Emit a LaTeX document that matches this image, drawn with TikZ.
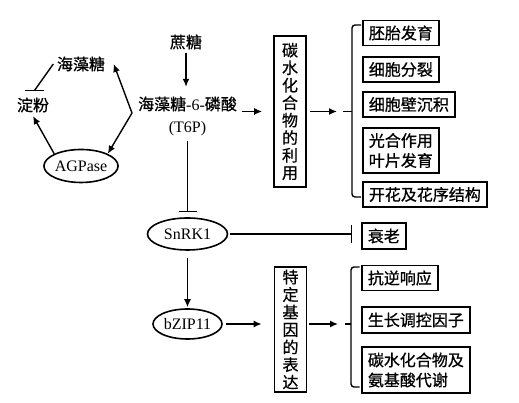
\documentclass[tikz,border=0pt]{standalone}
\usepackage{fontspec}
\setmainfont{Liberation Serif}
\newfontfamily\cjk[FakeBold=0.8]{Noto Sans CJK SC}
\usepackage{tikz}
\usetikzlibrary{shapes,arrows.meta}
\newcommand\zh{\cjk\fontsize{16pt}{20pt}\selectfont}
\newcommand\zhv{\cjk\fontsize{16pt}{17.5pt}\selectfont}
\tikzset{
	result/.style = {draw, line width=1.7pt, rectangle, anchor=west, align=left,
		minimum height=25pt, inner xsep=6pt, inner ysep=3pt, font=\zh},
	usage/.style  = {draw, line width=1.7pt, rectangle, align=center,
		minimum width=32pt, inner sep=2pt, font=\zhv},
	enzyme/.style = {draw, line width=1.6pt, ellipse, inner sep=0pt,
		font=\fontsize{16pt}{19pt}\selectfont},
	sugar/.style  = {inner sep=3pt, font=\zh},
	inhib/.style  = {-{Bar[width=18pt]}},
	brace/.style  = {rounded corners=3pt}
}

\begin{document}
\begin{tikzpicture}[line width=1.4pt, x=10pt, y=10pt, >={Latex[length=8pt,width=7pt]}]
	\useasboundingbox (0,0) rectangle (51.9,40.3);
	\draw
	
	node at (18.6,36.1) [sugar] (suc) {蔗糖}
	node at (18.75,28.7) [align=center, inner sep=2pt, font=\fontsize{16pt}{22pt}\selectfont] (t6p) {{\cjk 海藻糖}-6-{\cjk 磷酸}\\(T6P)}
	node at (8.1,33.9) [sugar] (tre) {海藻糖}
	node at (3.3,29.8) [sugar] (starch) {淀粉}
	node at (8.1,23.7) [enzyme, minimum width=64pt, minimum height=33pt] (agp) {AGPase}
	node at (18.75,16.9) [enzyme, minimum width=80pt, minimum height=32pt] (snrk) {SnRK1}
	node at (18.75,7.9) [enzyme, minimum width=69pt, minimum height=30pt] (bzip) {bZIP11}
	node at (29.0,29.15) [usage, minimum height=151pt] (carbon) {碳\\水\\化\\合\\物\\的\\利\\用}
	node at (29.05,7.35) [usage, minimum height=125pt] (gene) {特\\定\\基\\因\\的\\表\\达}
	node at (36.2,37.0) [result] (emb) {胚胎发育}
	node at (36.2,33.35) [result] (div) {细胞分裂}
	node at (36.2,29.85) [result] (wall) {细胞壁沉积}
	node at (36.2,25.25) [result, minimum height=45pt] (photo) {光合作用\\叶片发育}
	node at (36.2,20.85) [result] (flower) {开花及花序结构}
	node at (36.1,16.7) [result, minimum height=26pt] (sen) {衰老}
	node at (36.1,12.5) [result] (stress) {抗逆响应}
	node at (36.1,8.3) [result, minimum height=26pt] (growth) {生长调控因子}
	node at (36.1,3.3) [result, minimum height=46pt] (meta) {碳水化合物及\\氨基酸代谢};
	
	\coordinate (fork) at (13.2,29.0);
	\coordinate (stbar) at (3.45,31.25);
	\coordinate (br1) at (35.2,29.15);
	\coordinate (br1top) at (36.1,37.8);
	\coordinate (br1bot) at (36.1,20.6);
	\coordinate (br2) at (35.1,7.9);
	\coordinate (br2top) at (35.95,13.6);
	\coordinate (br2bot) at (35.95,1.6);
	
	% T6P and its targets
	\draw[->, shorten >=7pt](suc.south)--(suc.south |- t6p.north);
	\draw[->, shorten <=2pt, shorten >=11pt](t6p.east |- carbon.west)--(carbon.west);
	\draw[->](fork)--([xshift=5pt]tre.east);
	\draw[->](fork)--(agp.north east);
	\draw[->](agp.north west)--(starch.south);
	\draw(tre.west)--(stbar);
	\draw([xshift=-9.5pt]stbar)--([xshift=9.5pt]stbar);
	\draw[inhib, shorten <=3pt, shorten >=5pt](t6p)--(snrk);
	\draw[inhib, shorten <=2pt, shorten >=9pt](snrk)--(snrk -| sen.west);
	\draw[->, shorten <=7pt, shorten >=1pt](snrk)--(bzip);
	\draw[->, shorten <=3pt, shorten >=12pt](bzip)--(bzip -| gene.west);
	
	% brackets
	\draw[->, shorten <=3pt, shorten >=15pt](carbon.east |- br1)--(br1);
	\draw([xshift=-9pt]br1)--(br1);
	\draw[brace](br1top)-|(br1)|-(br1bot);
	\draw[->, shorten <=2pt, shorten >=13pt](gene.east |- br2)--(br2);
	\draw([xshift=-6pt]br2)--(br2);
	\draw[brace](br2top)-|(br2)|-(br2bot);
\end{tikzpicture}
\end{document}
